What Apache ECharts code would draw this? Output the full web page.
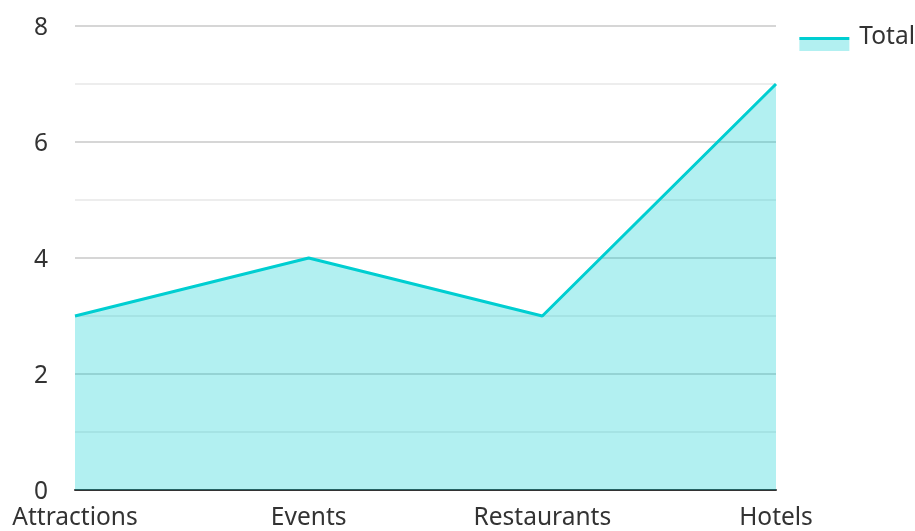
<!DOCTYPE html>
<html><head><meta charset="utf-8">
<script src="https://cdn.jsdelivr.net/npm/echarts@6/dist/echarts.min.js"></script>
<style>html,body{margin:0;padding:0;background:#fff}#c{width:915px;height:531px}</style>
</head><body><div id="c"></div>
<script>
const categories = ['Attractions', 'Events', 'Restaurants', 'Hotels'];
const totalValues = [3, 4, 3, 7];
const seriesName = 'Total';

const chart = echarts.init(document.getElementById('c'), null, {renderer: 'canvas'});
const lineColor = '#00CED1';
const areaColor = 'rgba(0,206,209,0.3)';
const FONT = 'Noto Sans';
const FS = 24.5;
chart.setOption({
  animation: false,
  textStyle: {fontFamily: FONT},
  grid: {left: 75, right: 139, top: 26, bottom: 39, containLabel: false},
  legend: {
    right: -5, top: 18,
    itemWidth: 50, itemHeight: 28, itemGap: 10,
    icon: 'rect',
    data: [{name: seriesName, itemStyle: {color: new echarts.graphic.LinearGradient(0,0,0,1,[
      {offset:0,color:'rgba(255,255,255,0)'},{offset:0.5,color:'rgba(255,255,255,0)'},
      {offset:0.5,color:lineColor},{offset:0.6,color:lineColor},
      {offset:0.6,color:'#b2f0f1'},{offset:1,color:'#b2f0f1'}]), borderWidth: 0}}],
    textStyle: {fontSize: FS, color: '#333', fontFamily: FONT, padding: [0, 0, 0, 5]}
  },
  xAxis: {
    type: 'category', data: categories, boundaryGap: false,
    axisLine: {lineStyle: {color: '#333', width: 2}},
    axisTick: {show: false},
    axisLabel: {fontSize: FS, color: '#333', margin: 16, fontFamily: FONT},
    splitLine: {show: false}
  },
  yAxis: {
    type: 'value', min: 0, max: 8, interval: 2,
    axisLine: {show: false}, axisTick: {show: false},
    axisLabel: {fontSize: FS, color: '#333', margin: 27, fontFamily: FONT,
      formatter: '{a|{value}}', rich: {a: {fontSize: FS, color: '#333', fontFamily: FONT, padding: [4, 0, 0, 0]}}},
    splitLine: {lineStyle: {color: '#c8c8c8', width: 1.5}},
    minorTick: {show: false, splitNumber: 2},
    minorSplitLine: {show: true, lineStyle: {color: '#e8e8e8', width: 1.5}}
  },
  series: [{
    name: seriesName, type: 'line', data: totalValues,
    symbol: 'none', lineStyle: {color: lineColor, width: 3},
    itemStyle: {color: lineColor},
    areaStyle: {color: areaColor, opacity: 1}
  }]
});
</script></body></html>
